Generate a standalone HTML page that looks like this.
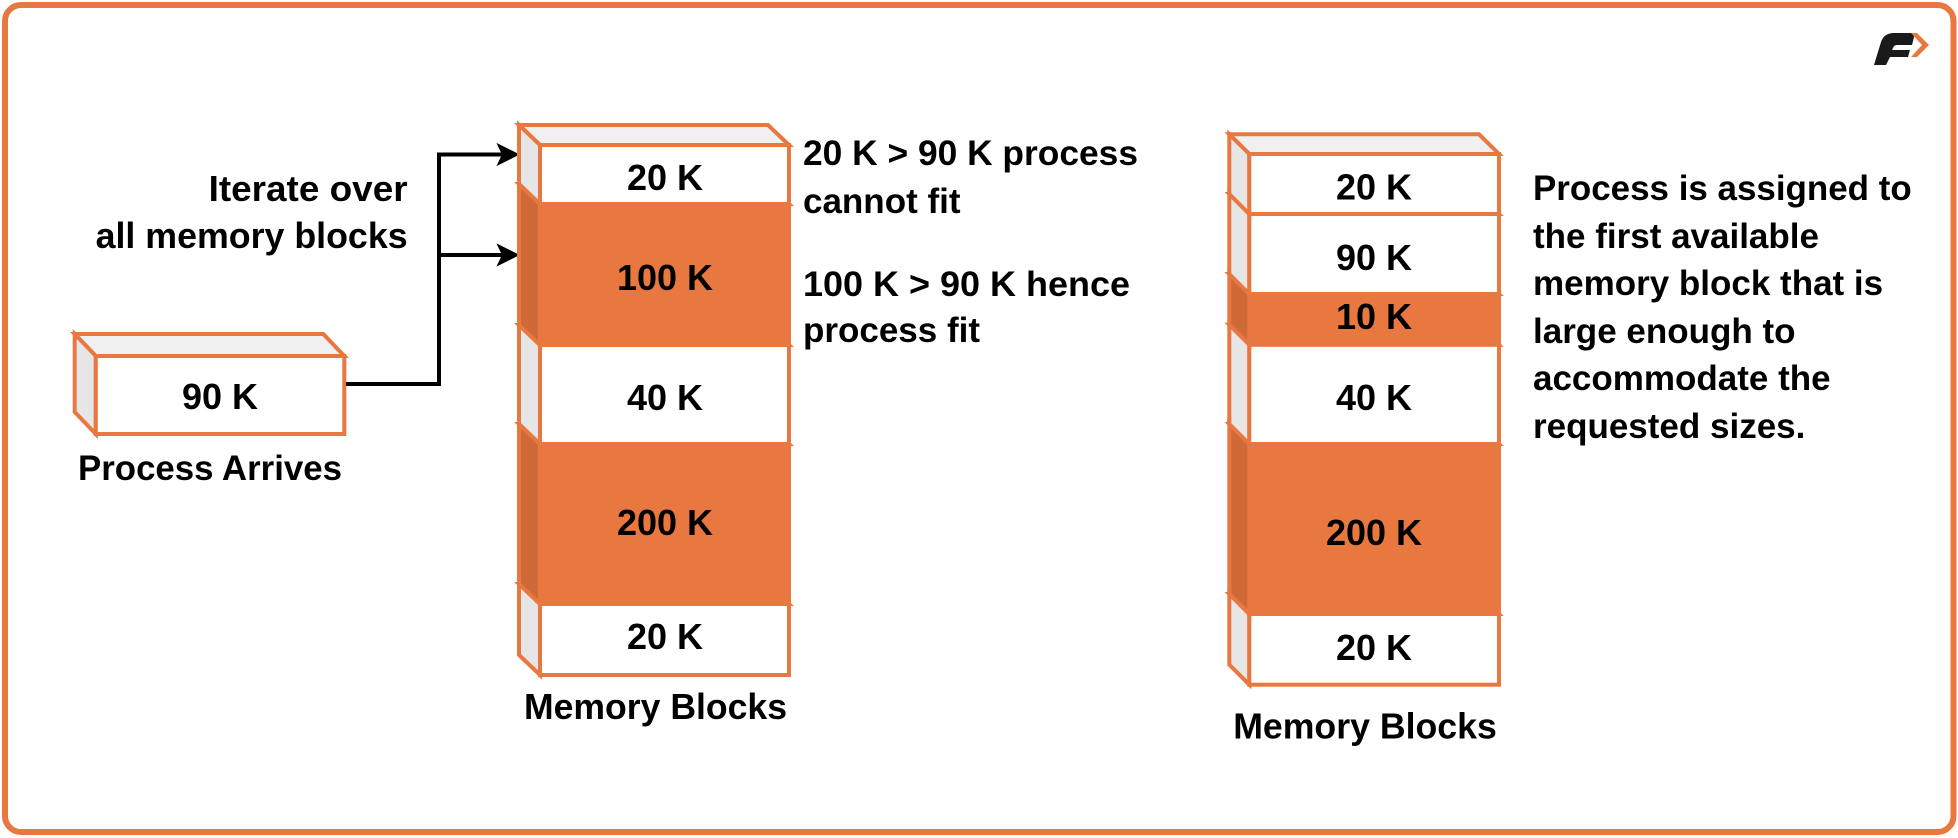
<!DOCTYPE html>
<html>
<head>
<meta charset="utf-8">
<style>
  html, body { margin: 0; padding: 0; background: #ffffff; }
  body { width: 1958px; height: 838px; overflow: hidden; }
  svg { display: block; }
  text { font-family: "Liberation Sans", Arial, sans-serif; font-weight: bold; fill: #000; }
</style>
</head>
<body>
<svg width="1958" height="838" viewBox="0 0 1958 838" xmlns="http://www.w3.org/2000/svg">
  <!-- outer frame -->
  <rect x="5" y="5" width="1948.5" height="827" rx="16" ry="16" fill="#ffffff" stroke="#E87740" stroke-width="6"/>

  <!-- logo -->
  <path d="M1874 65 L1881 42 Q1884 33 1894 33 L1915 33 L1912 45 L1897 45 Q1894 45 1893 48 L1892 50 L1910 50 L1908 57 L1890 57 L1886 65 Z" fill="#1a1a1a"/>
  <polygon points="1911,33 1917,33 1929,45 1917,57 1911,57 1922,45" fill="#E87740"/>

  <!-- ===== Process box ===== -->
  <g stroke="#E87740" stroke-width="4" stroke-linejoin="miter">
    <polygon points="74.7,334 323.3,334 344.3,356 95.8,356" fill="#F0F0F0"/>
    <polygon points="74.7,334 95.8,356 95.8,434 74.7,412" fill="#E6E6E6"/>
    <rect x="95.8" y="356" width="248.5" height="78" fill="#ffffff"/>
  </g>
  <text x="220" y="409" font-size="36" text-anchor="middle">90 K</text>
  <text x="210" y="480" font-size="35" text-anchor="middle" textLength="264" lengthAdjust="spacingAndGlyphs">Process Arrives</text>

  <!-- connectors -->
  <path d="M346 384 H439 V154.5 H504" fill="none" stroke="#000" stroke-width="4" stroke-linejoin="miter"/>
  <path d="M439 255 H504" fill="none" stroke="#000" stroke-width="4"/>
  <polygon points="518.6,154.5 497.5,144 502.5,154.5 497.5,165" fill="#000" stroke="#000" stroke-width="1"/>
  <polygon points="518.6,255 497.5,244.5 502.5,255 497.5,265.5" fill="#000" stroke="#000" stroke-width="1"/>

  <text x="407.6" y="201" font-size="36" text-anchor="end" textLength="199" lengthAdjust="spacingAndGlyphs">Iterate over</text>
  <text x="407.6" y="248" font-size="36" text-anchor="end" textLength="312" lengthAdjust="spacingAndGlyphs">all memory blocks</text>

  <!-- ===== Stack 1 ===== -->
  <g stroke="#E87740" stroke-width="4" stroke-linejoin="miter">
    <polygon points="519,584 768,584 789,604 540,604" fill="#F0F0F0"/>
    <polygon points="519,584 540,604 540,675 519,655" fill="#E6E6E6"/>
    <rect x="540" y="604" width="249" height="71" fill="#ffffff"/>
    <polygon points="519,424 768,424 789,444 540,444" fill="#E87740"/>
    <polygon points="519,424 540,444 540,604 519,584" fill="#CF6A38"/>
    <rect x="540" y="444" width="249" height="160" fill="#E87740"/>
    <polygon points="519,325 768,325 789,345 540,345" fill="#F0F0F0"/>
    <polygon points="519,325 540,345 540,444 519,424" fill="#E6E6E6"/>
    <rect x="540" y="345" width="249" height="99" fill="#ffffff"/>
    <polygon points="519,184 768,184 789,204 540,204" fill="#E87740"/>
    <polygon points="519,184 540,204 540,345 519,325" fill="#CF6A38"/>
    <rect x="540" y="204" width="249" height="141" fill="#E87740"/>
    <polygon points="519,125 768,125 789,145 540,145" fill="#F0F0F0"/>
    <polygon points="519,125 540,145 540,204 519,184" fill="#E6E6E6"/>
    <rect x="540" y="145" width="249" height="59" fill="#ffffff"/>
  </g>
  <text x="665" y="190" font-size="36" text-anchor="middle">20 K</text>
  <text x="665" y="290" font-size="36" text-anchor="middle">100 K</text>
  <text x="665" y="410" font-size="36" text-anchor="middle">40 K</text>
  <text x="665" y="535" font-size="36" text-anchor="middle">200 K</text>
  <text x="665" y="649" font-size="36" text-anchor="middle">20 K</text>
  <text x="655.5" y="719" font-size="36" text-anchor="middle" textLength="263" lengthAdjust="spacingAndGlyphs">Memory Blocks</text>

  <text x="803" y="165" font-size="35" textLength="335" lengthAdjust="spacingAndGlyphs">20 K &gt; 90 K process</text>
  <text x="803" y="213" font-size="35">cannot fit</text>
  <text x="803" y="296" font-size="35" textLength="327" lengthAdjust="spacingAndGlyphs">100 K &gt; 90 K hence</text>
  <text x="803" y="342" font-size="35">process fit</text>

  <!-- ===== Stack 2 ===== -->
  <g stroke="#E87740" stroke-width="4" stroke-linejoin="miter">
    <polygon points="1229.3,594 1479,594 1499,614 1249.3,614" fill="#F0F0F0"/>
    <polygon points="1229.3,594 1249.3,614 1249.3,684.7 1229.3,664.7" fill="#E6E6E6"/>
    <rect x="1249.3" y="614" width="249.7" height="70.7" fill="#ffffff"/>
    <polygon points="1229.3,424 1479,424 1499,444 1249.3,444" fill="#E87740"/>
    <polygon points="1229.3,424 1249.3,444 1249.3,614 1229.3,594" fill="#CF6A38"/>
    <rect x="1249.3" y="444" width="249.7" height="170" fill="#E87740"/>
    <polygon points="1229.3,324.7 1479,324.7 1499,344.7 1249.3,344.7" fill="#F0F0F0"/>
    <polygon points="1229.3,324.7 1249.3,344.7 1249.3,444 1229.3,424" fill="#E6E6E6"/>
    <rect x="1249.3" y="344.7" width="249.7" height="99.3" fill="#ffffff"/>
    <polygon points="1229.3,274 1479,274 1499,294 1249.3,294" fill="#E87740"/>
    <polygon points="1229.3,274 1249.3,294 1249.3,344.7 1229.3,324.7" fill="#CF6A38"/>
    <rect x="1249.3" y="294" width="249.7" height="50.7" fill="#E87740"/>
    <polygon points="1229.3,194 1479,194 1499,214 1249.3,214" fill="#F0F0F0"/>
    <polygon points="1229.3,194 1249.3,214 1249.3,294 1229.3,274" fill="#E6E6E6"/>
    <rect x="1249.3" y="214" width="249.7" height="80" fill="#ffffff"/>
    <polygon points="1229.3,134.3 1479,134.3 1499,154 1249.3,154" fill="#F0F0F0"/>
    <polygon points="1229.3,134.3 1249.3,154 1249.3,214 1229.3,194" fill="#E6E6E6"/>
    <rect x="1249.3" y="154" width="249.7" height="60" fill="#ffffff"/>
  </g>
  <text x="1374" y="199.5" font-size="36" text-anchor="middle">20 K</text>
  <text x="1374" y="270" font-size="36" text-anchor="middle">90 K</text>
  <text x="1374" y="329" font-size="36" text-anchor="middle">10 K</text>
  <text x="1374" y="410" font-size="36" text-anchor="middle">40 K</text>
  <text x="1374" y="545" font-size="36" text-anchor="middle">200 K</text>
  <text x="1374" y="660" font-size="36" text-anchor="middle">20 K</text>
  <text x="1365" y="738.5" font-size="36" text-anchor="middle" textLength="263.6" lengthAdjust="spacingAndGlyphs">Memory Blocks</text>

  <!-- right paragraph -->
  <text x="1533" y="200" font-size="35" textLength="378.7" lengthAdjust="spacingAndGlyphs">Process is assigned to</text>
  <text x="1533" y="248" font-size="35">the first available</text>
  <text x="1533" y="295" font-size="35">memory block that is</text>
  <text x="1533" y="343" font-size="35">large enough to</text>
  <text x="1533" y="390" font-size="35">accommodate the</text>
  <text x="1533" y="438" font-size="35">requested sizes.</text>
</svg>
</body>
</html>
